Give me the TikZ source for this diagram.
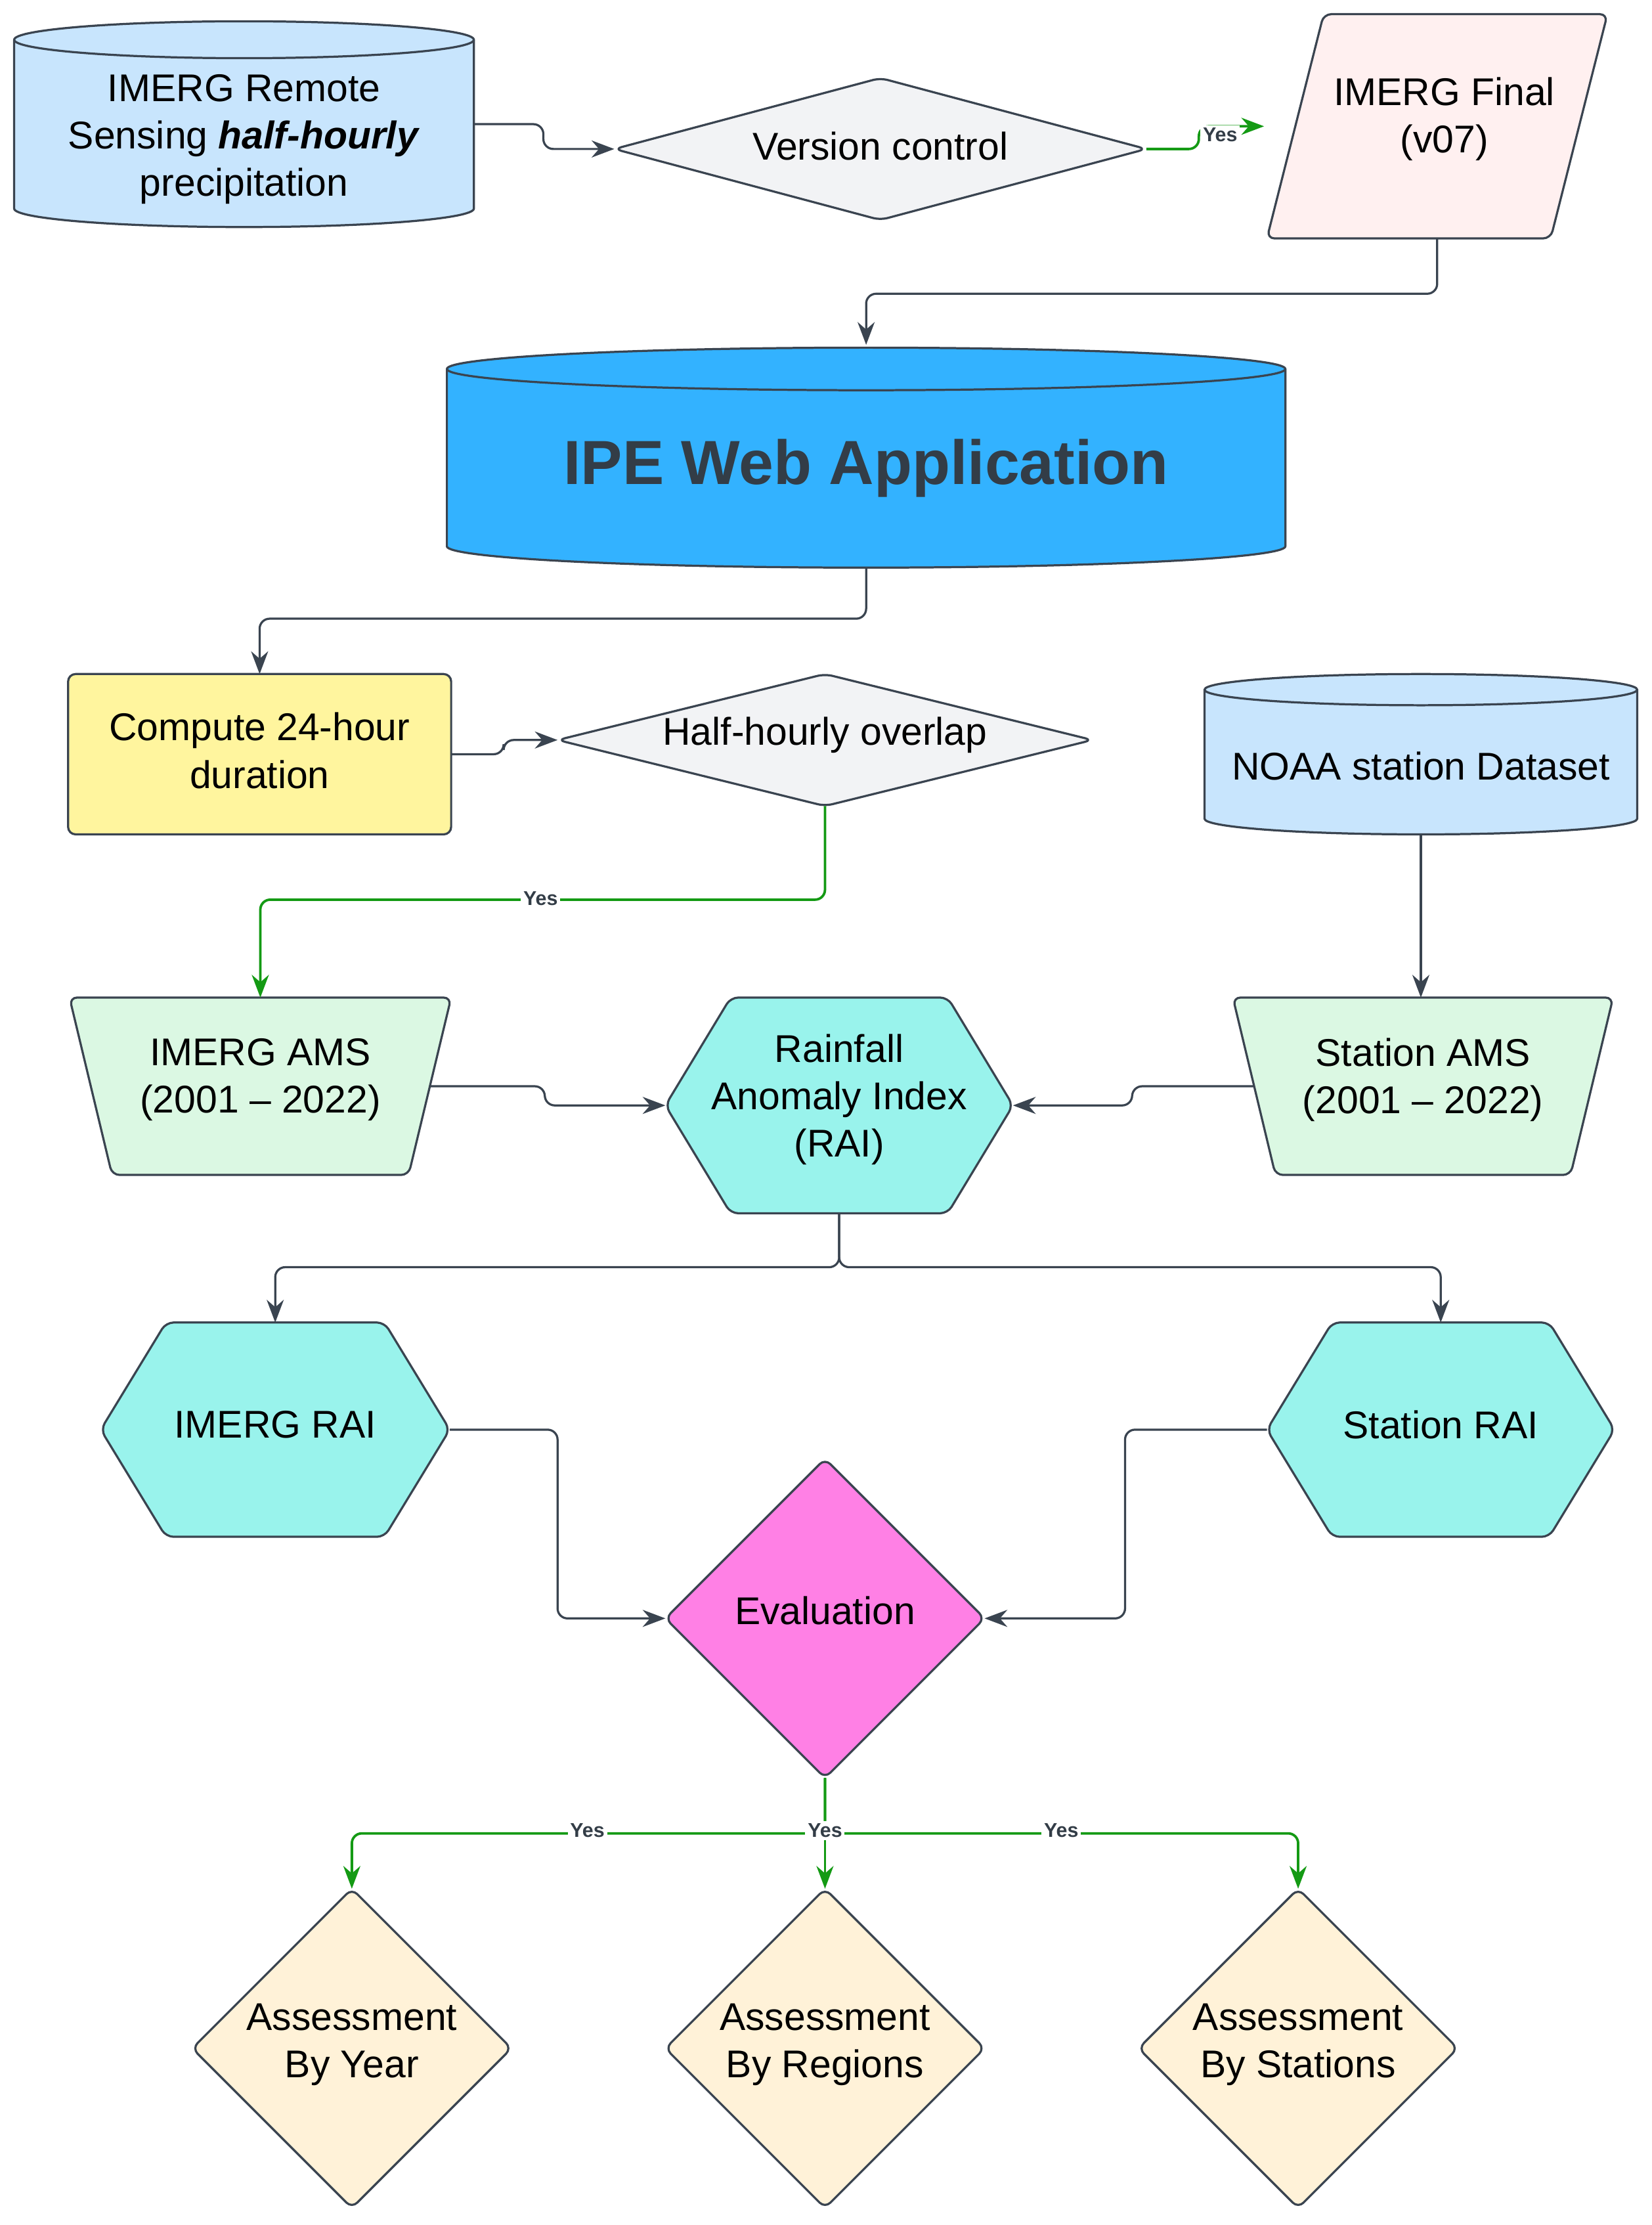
\documentclass[tikz,border=0pt]{standalone}
\usepackage{fontspec}
\setmainfont{Liberation Sans}
\usetikzlibrary{calc,arrows.meta}
\definecolor{dbblue}{HTML}{C8E5FD}
\definecolor{ipeblue}{HTML}{33B2FF}
\definecolor{dgray}{HTML}{F2F3F5}
\definecolor{pinkfin}{HTML}{FFF0F0}
\definecolor{yell}{HTML}{FFF59E}
\definecolor{lgreen}{HTML}{DBF8E3}
\definecolor{cyanf}{HTML}{99F3EC}
\definecolor{magf}{HTML}{FF80E5}
\definecolor{cream}{HTML}{FFF2D8}
\definecolor{lc}{HTML}{3A4450}
\definecolor{grn}{HTML}{149A14}
\definecolor{tgray}{HTML}{333D47}
\begin{document}
\begin{tikzpicture}[x=0.2mm,y=-0.2mm,
  box/.style={draw=none,inner sep=0,outer sep=0},
  shp/.style={draw=lc,line width=0.3mm,rounded corners=3pt,line join=round},
  txt/.style={align=center,font=\fontsize{15.5}{19}\selectfont,text=black,inner sep=0},
  conn/.style={draw=lc,line width=0.3mm,rounded corners=4pt,-{Stealth[length=3.2mm,width=2.4mm]}},
  gconn/.style={draw=grn,line width=0.35mm,rounded corners=4pt,-{Stealth[length=3.2mm,width=2.4mm]}},
  gline/.style={draw=grn,line width=0.35mm,rounded corners=4pt},
  yes/.style={fill=white,inner sep=1pt,font=\fontsize{8}{9}\selectfont\bfseries,text=tgray}]
\useasboundingbox[fill=white] (0,0) rectangle (1164,1568);
% nodes (bounding boxes)
\node[box,minimum width=64.8mm,minimum height=29mm] (db1) at (172,87.5) {};
\node[box,minimum width=75mm,minimum height=20mm] (vc) at (620.5,105) {};
\node[box,minimum width=48mm,minimum height=31.6mm] (fin) at (1013,89) {};
\node[box,minimum width=118.2mm,minimum height=31mm] (ipe) at (610.5,322.5) {};
\node[box,minimum width=54mm,minimum height=22.6mm] (comp) at (183,531.5) {};
\node[box,minimum width=75.4mm,minimum height=18.6mm] (hh) at (581.5,521.5) {};
\node[box,minimum width=61mm,minimum height=22.6mm] (noaa) at (1001.5,531.5) {};
\node[box,minimum width=53.8mm,minimum height=25mm] (iams) at (183.5,765.5) {};
\node[box,minimum width=49mm,minimum height=30.4mm] (rai) at (591.5,779) {};
\node[box,minimum width=53.6mm,minimum height=25mm] (sams) at (1003,765.5) {};
\node[box,minimum width=49.2mm,minimum height=30.2mm] (irai) at (194,1007.5) {};
\node[box,minimum width=49mm,minimum height=30.2mm] (srai) at (1015.5,1007.5) {};
\node[box,minimum width=45mm,minimum height=45mm] (ev) at (581.5,1140.5) {};
\node[box,minimum width=45mm,minimum height=45mm] (a1) at (248,1443.5) {};
\node[box,minimum width=45mm,minimum height=45mm] (a2) at (581.5,1443.5) {};
\node[box,minimum width=45mm,minimum height=45mm] (a3) at (915,1443.5) {};
% shapes
\path[shp,fill=dbblue,rounded corners=0pt] ($(db1.north west)+(0,13)$) -- ($(db1.south west)+(0,-13)$) arc[start angle=180,end angle=360,x radius=32.4mm,y radius=2.6mm] -- ($(db1.north east)+(0,13)$) arc[start angle=0,end angle=180,x radius=32.4mm,y radius=2.6mm] -- cycle;
\draw[shp] ($(db1.north west)+(0,13)$) arc[start angle=180,end angle=360,x radius=32.4mm,y radius=2.6mm];
\path[shp,fill=dgray] (vc.north) -- (vc.east) -- (vc.south) -- (vc.west) -- cycle;
\path[shp,fill=pinkfin] ($(fin.north west)+(40,0)$) -- (fin.north east) -- ($(fin.south east)+(-40,0)$) -- (fin.south west) -- cycle;
\path[shp,fill=ipeblue,rounded corners=0pt] ($(ipe.north west)+(0,15)$) -- ($(ipe.south west)+(0,-15)$) arc[start angle=180,end angle=360,x radius=59.1mm,y radius=3mm] -- ($(ipe.north east)+(0,15)$) arc[start angle=0,end angle=180,x radius=59.1mm,y radius=3mm] -- cycle;
\draw[shp] ($(ipe.north west)+(0,15)$) arc[start angle=180,end angle=360,x radius=59.1mm,y radius=3mm];
\path[shp,fill=yell] (comp.north west) rectangle (comp.south east);
\path[shp,fill=dgray] (hh.north) -- (hh.east) -- (hh.south) -- (hh.west) -- cycle;
\path[shp,fill=dbblue,rounded corners=0pt] ($(noaa.north west)+(0,11)$) -- ($(noaa.south west)+(0,-11)$) arc[start angle=180,end angle=360,x radius=30.5mm,y radius=2.2mm] -- ($(noaa.north east)+(0,11)$) arc[start angle=0,end angle=180,x radius=30.5mm,y radius=2.2mm] -- cycle;
\draw[shp] ($(noaa.north west)+(0,11)$) arc[start angle=180,end angle=360,x radius=30.5mm,y radius=2.2mm];
\path[shp,fill=lgreen] (iams.north west) -- (iams.north east) -- ($(iams.south east)+(-30,0)$) -- ($(iams.south west)+(30,0)$) -- cycle;
\path[shp,fill=lgreen] (sams.north west) -- (sams.north east) -- ($(sams.south east)+(-30,0)$) -- ($(sams.south west)+(30,0)$) -- cycle;
\path[shp,fill=cyanf] (rai.west) -- ($(rai.north west)+(46,0)$) -- ($(rai.north east)+(-46,0)$) -- (rai.east) -- ($(rai.south east)+(-46,0)$) -- ($(rai.south west)+(46,0)$) -- cycle;
\path[shp,fill=cyanf] (irai.west) -- ($(irai.north west)+(46,0)$) -- ($(irai.north east)+(-46,0)$) -- (irai.east) -- ($(irai.south east)+(-46,0)$) -- ($(irai.south west)+(46,0)$) -- cycle;
\path[shp,fill=cyanf] (srai.west) -- ($(srai.north west)+(46,0)$) -- ($(srai.north east)+(-46,0)$) -- (srai.east) -- ($(srai.south east)+(-46,0)$) -- ($(srai.south west)+(46,0)$) -- cycle;
\path[shp,fill=magf] (ev.north) -- (ev.east) -- (ev.south) -- (ev.west) -- cycle;
\foreach \n in {a1,a2,a3}{\path[shp,fill=cream] (\n.north) -- (\n.east) -- (\n.south) -- (\n.west) -- cycle;}
% texts
\node[txt] (t1) at (172,98) {IMERG Remote\\Sensing \textbf{\textit{half-hourly}}\\precipitation};
\node[txt] (t2) at (620.5,103) {Version control};
\node[txt] (t3) at (1018,84) {IMERG Final\\(v07)};
\node[txt,font=\fontsize{25}{30}\selectfont\bfseries,text=tgray] (t4) at (610.5,330) {IPE Web Application};
\node[txt] (t5) at (183,529) {Compute 24-hour\\duration};
\node[txt] (t6) at (581.5,518) {Half-hourly overlap};
\node[txt] (t7) at (1001.5,540) {NOAA station Dataset};
\node[txt] (t8) at (183.5,761) {IMERG AMS\\(2001 – 2022)};
\node[txt] (t9) at (591.5,775) {Rainfall\\Anomaly Index\\(RAI)};
\node[txt] (t10) at (1003,761) {Station AMS\\(2001 – 2022)};
\node[txt] (t11) at (194,1004) {IMERG RAI};
\node[txt] (t12) at (1015.5,1004) {Station RAI};
\node[txt] (t13) at (581.5,1135) {Evaluation};
\node[txt] (t14) at (248,1441) {Assessment\\By Year};
\node[txt] (t15) at (581.5,1441) {Assessment\\By Regions};
\node[txt] (t16) at (915,1441) {Assessment\\By Stations};
% connectors
\draw[conn] (db1.east) -- ++(49,0) |- (vc.west);
\draw[gconn] (vc.east) -- ++(37,0) |- ($(fin.west)+(-2,0)$);
\node[yes] (y1) at (860,95) {Yes};
\draw[conn] (fin.south) -- ++(0,39) -| ($(ipe.north)+(0,-2)$);
\draw[conn] (ipe.south) -- ++(0,36) -| (comp.north);
\draw[conn] (comp.east) -- ++(37,0) |- (hh.west);
\draw[gconn] (hh.south) -- ++(0,66) -| (iams.north);
\node[yes] (y2) at (381,633) {Yes};
\draw[conn] (noaa.south) -- (noaa.south |- sams.north);
\draw[conn] ($(iams.east)+(-15,0)$) -- ++(81,0) |- (rai.west);
\draw[conn] ($(sams.west)+(15,0)$) -- ++(-86,0) |- (rai.east);
\draw[conn] (rai.south) -- ++(0,38) -| (irai.north);
\draw[conn] (rai.south) -- ++(0,38) -| (srai.north);
\draw[conn] (irai.east) -- ++(76,0) |- (ev.west);
\draw[conn] (srai.west) -- ++(-100,0) |- (ev.east);
\draw[gconn] (ev.south) -- ++(0,39) -| (a1.north);
\draw[gconn] (ev.south) -- (a2.north);
\draw[gconn] (ev.south) -- ++(0,39) -| (a3.north);
\node[yes] (y3) at (414,1290) {Yes};
\node[yes] (y4) at (581.5,1290) {Yes};
\node[yes] (y5) at (748,1290) {Yes};
\end{tikzpicture}
\end{document}
